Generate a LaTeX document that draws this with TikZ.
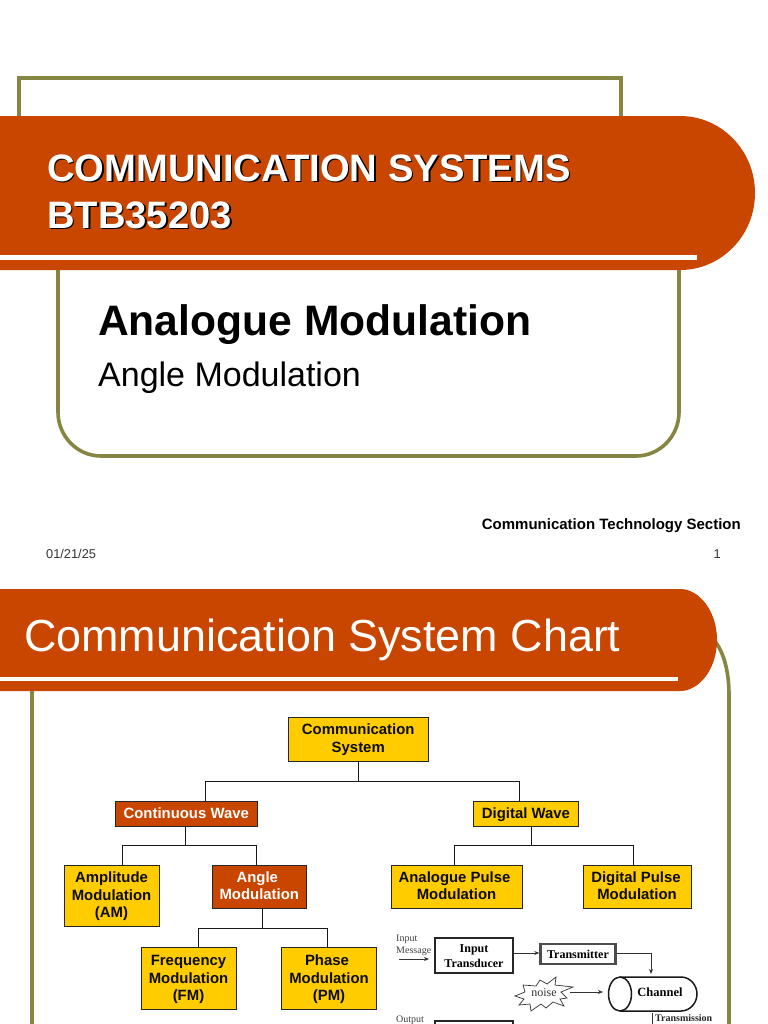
\documentclass[tikz,border=0pt]{standalone}
\usepackage{fontspec}
\setmainfont{Liberation Sans}
\newfontfamily\serifface{Liberation Serif}
\usetikzlibrary{arrows.meta}
\definecolor{bandc}{HTML}{C84600}
\definecolor{olivec}{HTML}{868642}
\definecolor{boxy}{HTML}{FFCC00}
\newcommand{\fsz}[1]{\fontsize{#1bp}{#1bp}\selectfont}
\newcommand{\fszl}[2]{\fontsize{#1bp}{#2bp}\selectfont}
\newcommand{\dn}[2][1.2bp]{\raisebox{-#1}[\height][\depth]{\setlength{\tabcolsep}{0pt}\begin{tabular}{c}#2\end{tabular}}}
\tikzset{
  outline/.style={draw=olivec,line width=3.6bp},
  band/.style={fill=bandc},
  whitebar/.style={fill=white},
  chartbox/.style={draw=black!85,line width=1bp,minimum width=#1,inner sep=0pt,font=\fszl{14.9}{17.5}\bfseries},
  yellowbox/.style={chartbox=#1,fill=boxy,text=black!95},
  redbox/.style={chartbox=#1,fill=bandc,text=white},
  link/.style={draw=black!90,line width=0.9bp},
  titletext/.style={anchor=base west,inner sep=0pt,font=\fsz{38.2}\bfseries,text=white},
  titleshadow/.style={anchor=base west,inner sep=0pt,font=\fsz{38.2}\bfseries,text=black},
  plain/.style={inner sep=0pt,text=black},
  blockbox/.style={draw=black!85,line width=1.8bp,fill=white,inner sep=0pt,font=\serifface\fszl{12}{15}\bfseries},
  sketch/.style={draw=black!80,line width=0.7bp},
  sketcharrow/.style={sketch,-{Stealth[length=5bp,width=4bp]}},
  smallserif/.style={inner sep=0pt,anchor=base west,align=left,font=\serifface\fsz{10},text=black!75},
}
\begin{document}
\begin{tikzpicture}[x=1bp,y=-1bp]
\useasboundingbox (0,0) rectangle (768,1024);
\clip (0,0) rectangle (768,1024);
\fill[white] (0,0) rectangle (768,1024);
% --- first slide ---
\draw[outline] (19,120) -- (19,78) -- (621,78) -- (621,120);
\draw[outline] (58,260) -- (58,412) .. controls (58,436) and (77,456) .. (101,456) -- (636,456)
  .. controls (660,456) and (679,436) .. (679,412) -- (679,260);
\path[band] (-2,116) -- (680,116) .. controls (721,116) and (755,150) .. (755,193) .. controls (755,236) and (721,270) .. (680,270) -- (-2,270) -- cycle;
\path[whitebar] (-2,255) rectangle (697,260);
\node[titleshadow] at (48.5,182.5) {COMMUNICATION SYSTEMS};
\node[titletext] (title1) at (47,181) {COMMUNICATION SYSTEMS};
\node[titleshadow] at (48.5,229.5) {BTB35203};
\node[titletext] (title2) at (47,228) {BTB35203};
\node[plain,anchor=base west,font=\fsz{42.6}\bfseries] (sub1) at (98,335) {Analogue Modulation};
\node[plain,anchor=base west,font=\fsz{34}] (sub2) at (98,386) {Angle Modulation};
\node[plain,anchor=base east,font=\fsz{15}\bfseries] (sect) at (741,529) {Communication Technology Section};
\node[plain,anchor=base west,font=\fsz{12.8},text=black!80] (date) at (46,558) {01/21/25};
\node[plain,anchor=base east,font=\fsz{12.8},text=black!80] (pageno) at (721,558) {1};
% --- second slide ---
\draw[outline] (32,680) -- (32,1030);
\draw[outline] (729,1030) -- (729,695) .. controls (729,672) and (724,652) .. (714,640);
\path[band] (-2,589) -- (680,589) .. controls (700,589) and (717,612) .. (717,640) .. controls (717,668) and (700,691) .. (680,691) -- (-2,691) -- cycle;
\path[whitebar] (-2,677) rectangle (678,681);
\node[plain,anchor=base west,font=\fsz{44.9},text=white] (chart) at (24,651) {Communication System Chart};
% --- chart ---
\node[yellowbox=139.5bp,minimum height=44bp] (cs) at (358.25,739) {\dn{Communication\\System}};
\node[redbox=141.5bp,minimum height=25bp] (cw) at (186.25,813.5) {\dn{Continuous Wave}};
\node[yellowbox=105bp,minimum height=25bp] (dw) at (526,813.5) {\dn{Digital Wave}};
\node[yellowbox=95bp,minimum height=61bp] (am) at (111.5,895.5) {\dn{Amplitude\\Modulation\\(AM)}};
\node[redbox=94.5bp,minimum height=43bp] (ang) at (259.25,886.5) {\dn{Angle\hspace*{4bp}\\Modulation}};
\node[yellowbox=131bp,minimum height=43bp] (apm) at (456.5,886.5) {\dn{Analogue Pulse\hspace*{4bp}\\Modulation}};
\node[yellowbox=108bp,minimum height=43bp] (dpm) at (637,886.5) {\dn{Digital Pulse\hspace*{2bp}\\Modulation}};
\node[yellowbox=95bp,minimum height=62bp] (fm) at (188.5,978) {\dn[1.5bp]{Frequency\\Modulation\\(FM)}};
\node[yellowbox=95bp,minimum height=62bp] (pm) at (329,978) {\dn[1.5bp]{Phase\hspace*{4bp}\\Modulation\\(PM)}};
\coordinate (j1) at (358,781);
\coordinate (j2) at (185.5,845);
\coordinate (j3) at (531,845);
\coordinate (j4) at (262,928);
\draw[link] (cs.south -| j1) -- (j1);
\draw[link] (cw.north -| 205,0) |- (j1) -| (dw.north -| 519,0);
\draw[link] (cw.south -| j2) -- (j2);
\draw[link] (am.north -| 122,0) |- (j2) -| (ang.north -| 256,0);
\draw[link] (dw.south -| j3) -- (j3);
\draw[link] (apm.north -| 454,0) |- (j3) -| (dpm.north -| 633,0);
\draw[link] (ang.south -| j4) -- (j4);
\draw[link] (fm.north -| 198.5,0) |- (j4) -| (pm.north -| 327,0);
% --- block diagram ---
\node[smallserif] (inmsg) at (396,941) {Input};
\node[smallserif] (inmsg2) at (396,953) {Message};
\node[smallserif] (outmsg) at (396,1022) {Output};
\coordinate (instart) at (399,959);
\coordinate (inend) at (429,959);
\node[blockbox,minimum width=78bp,minimum height=35bp] (itd) at (474,955.5) {\dn[1bp]{Input\\Transducer}};
\node[blockbox,line width=2.4bp,draw=black!70,minimum width=75bp,minimum height=20bp] (tx) at (578,954) {Transmitter};
\node[blockbox,minimum width=78bp,minimum height=20bp] (otd) at (474,1031) {};
\draw[sketcharrow] (instart) -- (inend);
\draw[sketcharrow] (itd.east |- 0,953) -- (tx.west |- 0,953);
\coordinate (chtop) at (651,974);
\draw[sketcharrow] (tx.east |- 0,953) -| (chtop);
% channel cylinder
\draw[line width=1.5bp,draw=black!90,fill=white] (620,977) -- (681,977) .. controls (690,977) and (697,985) .. (697,994) .. controls (697,1003) and (690,1011) .. (681,1011) -- (620,1011);
\draw[line width=1.5bp,draw=black!90] (620,994) ellipse[x radius=11.5,y radius=17];
\node[inner sep=0pt,font=\serifface\fsz{12.5}\bfseries] (ch) at (660,992.5) {Channel};
\coordinate (chleft) at (603,992);
% noise
\draw[sketch,fill=white] (523,985) -- (536,986) -- (540,980) -- (547,984) -- (556,977) -- (555,985) -- (573,987) -- (561,992)
  -- (567,998) -- (560,999) -- (564,1006) -- (553,1002) -- (546,1008) -- (541,1004) -- (531,1011) -- (530,1004) -- (519,1005) -- (524,999) -- (515,996) -- (525,992) -- cycle;
\node[inner sep=0pt,font=\serifface\fsz{12},text=black!80] (noise) at (544,993) {noise};
\coordinate (noiseout) at (570,992);
\draw[sketcharrow] (noiseout) -- (chleft);
\coordinate (rxa) at (652,1013);
\coordinate (rxb) at (652,1026);
\draw[sketch] (rxa) -- (rxb);
\node[inner sep=0pt,anchor=base west,font=\serifface\fsz{10}\bfseries,text=black!85] (trans) at (655,1021) {Transmission};
\end{tikzpicture}
\end{document}
